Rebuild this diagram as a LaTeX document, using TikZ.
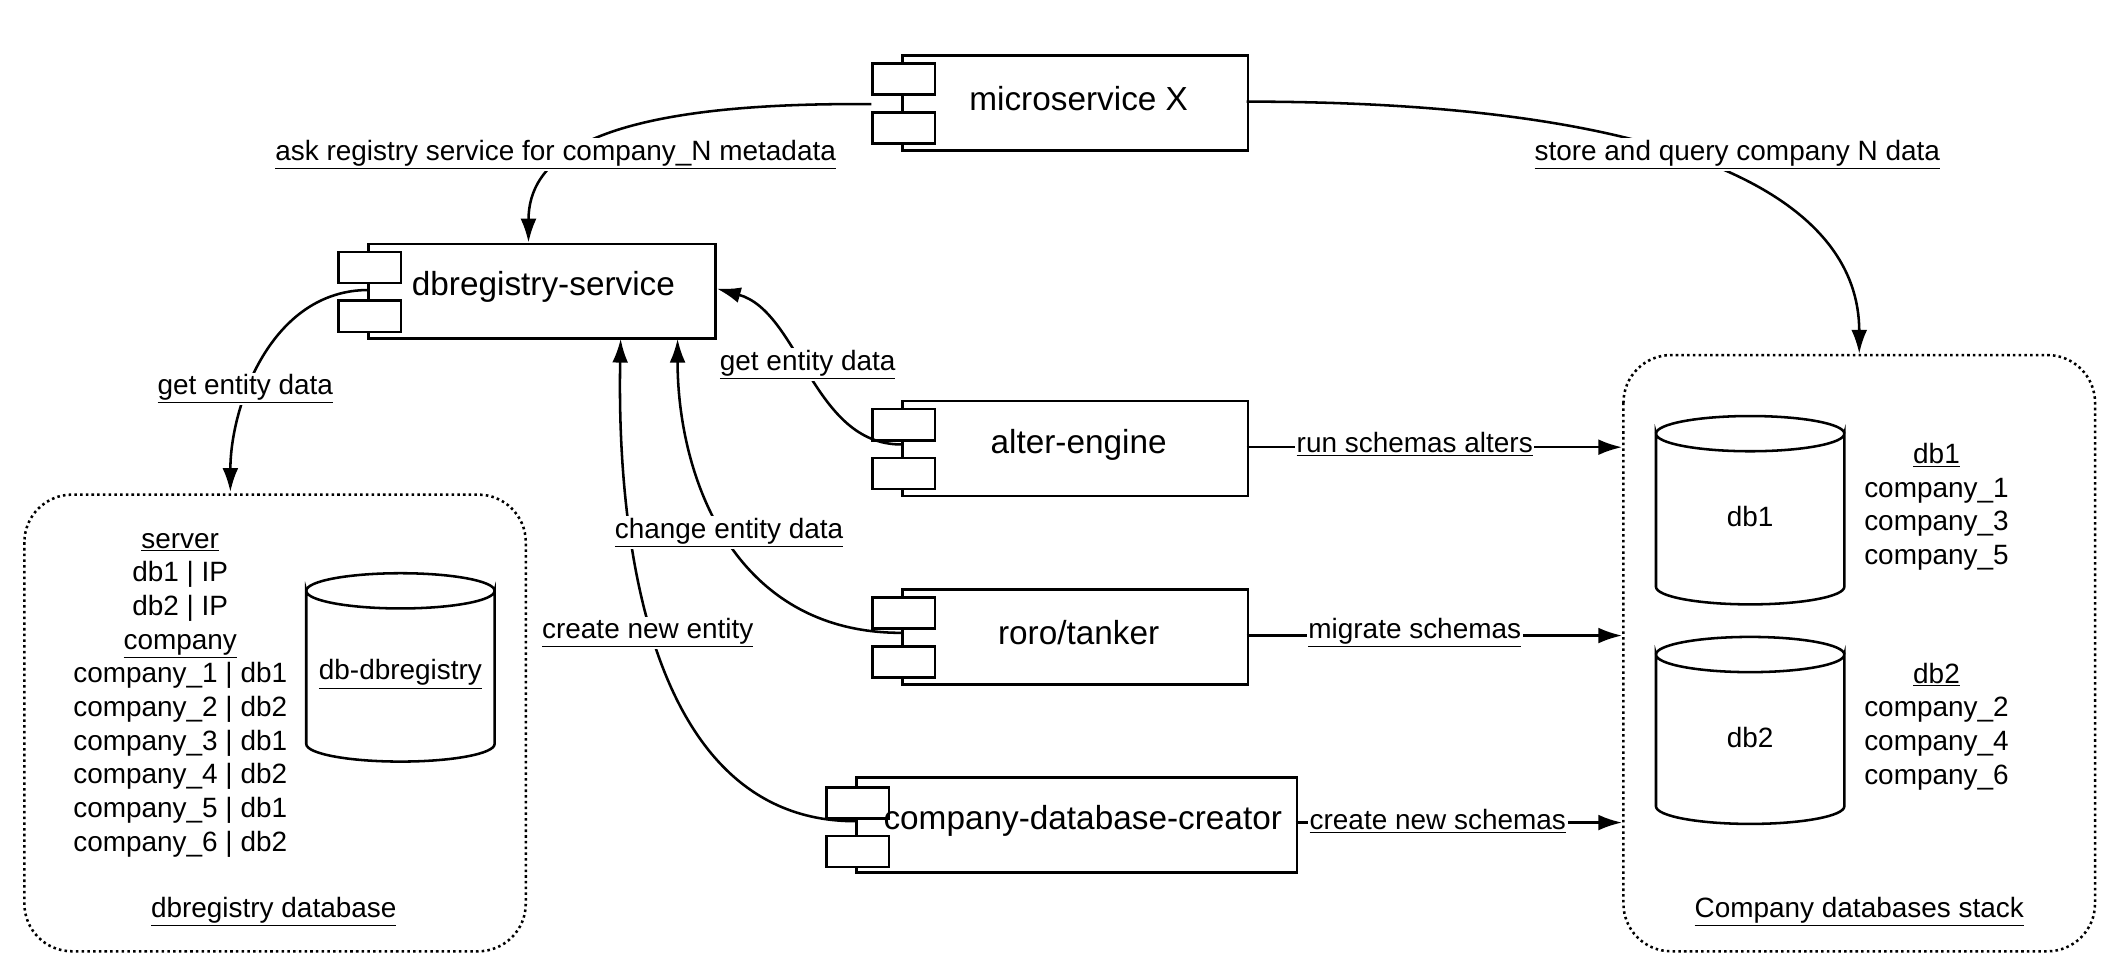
\documentclass[tikz,border=0pt]{standalone}
\usepackage{fontspec}
\setmainfont{Liberation Sans}
\usetikzlibrary{arrows.meta}
\begin{document}
\begin{tikzpicture}[x=0.03cm,y=-0.03cm,line width=1.6pt,
  big/.style={font=\fontsize{21}{24}\selectfont},
  sm/.style={font=\fontsize{17.6}{21.2}\selectfont},
  comp/.style={draw,fill=white,anchor=north west,inner sep=0pt},
  tab/.style={draw,fill=white,anchor=north west,inner sep=0pt,minimum width=46*0.03cm,minimum height=23*0.03cm},
  lab/.style={sm,fill=white,inner sep=1pt},
  arr/.style={-{Latex[length=15pt,width=10pt]}},
  grp/.style={draw,dotted,rounded corners=30pt,line width=1.6pt}]
\useasboundingbox (0,0) rectangle (1560,713);
% groups
\draw[grp] (18,365) rectangle (388,702);
\draw[grp] (1198,262) rectangle (1546,702);
% components
\node[comp,minimum width=255*0.03cm,minimum height=70*0.03cm] (ms) at (665,40) {};
\node[tab] (ms1) at (643,46) {}; \node[tab] (ms2) at (643,82) {};
\node[big] at (796,73) {microservice X};
\node[comp,minimum width=256*0.03cm,minimum height=70*0.03cm] (dr) at (271,179) {};
\node[tab] (dr1) at (249,185) {}; \node[tab] (dr2) at (249,221) {};
\node[big] at (401,212) {dbregistry-service};
\node[comp,minimum width=255*0.03cm,minimum height=70*0.03cm] (ae) at (665,295) {};
\node[tab] (ae1) at (643,301) {}; \node[tab] (ae2) at (643,337) {};
\node[big] at (796,328) {alter-engine};
\node[comp,minimum width=255*0.03cm,minimum height=70*0.03cm] (rt) at (665,434) {};
\node[tab] (rt1) at (643,440) {}; \node[tab] (rt2) at (643,476) {};
\node[big] at (796,467) {roro/tanker};
\node[comp,minimum width=325*0.03cm,minimum height=70*0.03cm] (cc) at (631,573) {};
\node[tab] (cc1) at (609,580) {}; \node[tab] (cc2) at (609,616) {};
\node[big,inner sep=0pt] at (799,606) {company-database-creator};
% cylinders
\foreach \n/\x/\t/\b/\txt in {cyl0/226/423/562/\underline{db-dbregistry},cyl1/1222/307/446/db1,cyl2/1222/470/608/db2}{
  \draw[fill=white] (\x,\t+13) -- (\x,\b-13) arc[start angle=180,end angle=0,x radius=69.5,y radius=13]
     -- (\x+139,\t+13) arc[start angle=0,end angle=180,x radius=69.5,y radius=13] -- cycle;
  \draw (\x+139,\t+13) arc[start angle=0,end angle=-180,x radius=69.5,y radius=13];
  \node[sm] (\n) at (\x+69.5,{(\t+\b)/2+5}) {\txt};
}
% texts
\node[sm,align=center] (lt) at (133,513) {\underline{server}\\db1 | IP\\db2 | IP\\\underline{company}\\company\_1 | db1\\company\_2 | db2\\company\_3 | db1\\company\_4 | db2\\company\_5 | db1\\company\_6 | db2};
\node[sm] at (202,673) {\underline{dbregistry database}};
\node[sm,align=center] at (1429,374) {\underline{db1}\\company\_1\\company\_3\\company\_5};
\node[sm,align=center] at (1429,536) {\underline{db2}\\company\_2\\company\_4\\company\_6};
\node[sm] at (1372,673) {\underline{Company databases stack}};
% connectors
\coordinate (a1) at (390,179); \coordinate (a2) at (1372,261); \coordinate (a3) at (170,363);
\coordinate (a4) at (529,213); \coordinate (a5) at (500,250); \coordinate (a6) at (458,250);
\coordinate (b1) at (1197,330); \coordinate (b2) at (1197,469); \coordinate (b3) at (1197,607);
\draw[arr] (ms1.south west) ++(0,6) .. controls (430,75) and (390,120) .. (a1);
\draw[arr] (920,75) .. controls (1250,75) and (1372,150) .. (a2);
\draw[arr] (272,214) .. controls (200,214) and (170,300) .. (a3);
\draw[arr] (665,328) .. controls (600,328) and (590,230) .. (a4);
\draw[arr] (665,467) .. controls (540,467) and (500,350) .. (a5);
\draw[arr] (631,606) .. controls (480,606) and (455,400) .. (a6);
\draw[arr] (920,330) -- (b1);
\draw[arr] (920,469) -- (b2);
\draw[arr] (956,607) -- (b3);
\node[lab] at (410,114) {\underline{ask registry service for company\_N metadata}};
\node[lab] at (1282,114) {\underline{store and query company N data}};
\node[lab] at (181,287) {\underline{get entity data}};
\node[lab] at (596,269) {\underline{get entity data}};
\node[lab] at (538,393) {\underline{change entity data}};
\node[lab] at (478,467) {\underline{create new entity}};
\node[lab] at (1044,328) {\underline{run schemas alters}};
\node[lab] at (1044,467) {\underline{migrate schemas}};
\node[lab] at (1061,606) {\underline{create new schemas}};
\end{tikzpicture}
\end{document}
